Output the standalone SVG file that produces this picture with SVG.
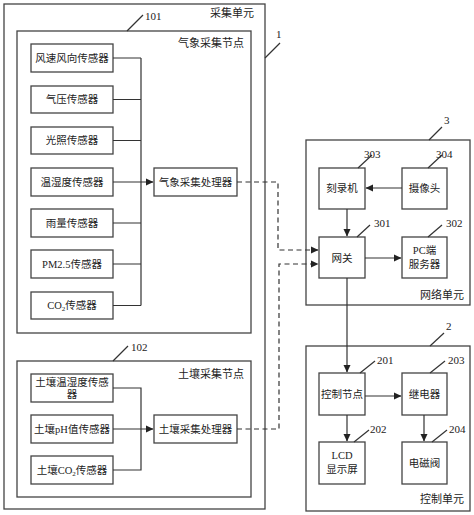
<svg xmlns="http://www.w3.org/2000/svg" width="474" height="515" viewBox="0 0 474 515">
<defs>
<marker id="ah" markerWidth="8" markerHeight="8" refX="7" refY="4" orient="auto" markerUnits="userSpaceOnUse">
<path d="M0,0.5 L7.5,4 L0,7.5 Z" fill="#222"/>
</marker>
</defs>
<style>
rect{fill:#fff;stroke:#444;stroke-width:1.3}
.ln{fill:none;stroke:#333;stroke-width:1.2}
.ds{fill:none;stroke:#333;stroke-width:1.2;stroke-dasharray:5,3.5}
text{font-family:"Liberation Serif","Noto Sans CJK SC",serif;font-size:10.5px;fill:#222}
.c{text-anchor:middle}
.e{text-anchor:end;font-size:11px}
.n{font-size:11px}
</style>
<rect width="474" height="515" style="fill:#fff;stroke:none"/>

<g id="unit1">
<rect x="4" y="4" width="261" height="505"/>
<text class="e" x="254" y="17">采集单元</text>
</g>
<g id="label1"><path class="ln" d="M265,58 L280,43"/><text class="n" x="276" y="38">1</text></g>

<g id="node101">
<rect x="17" y="31" width="234" height="302"/>
<text class="e" x="244" y="47">气象采集节点</text>
<path class="ln" d="M127,31 L143,15"/><text class="n" x="145" y="20">101</text>
</g>

<g id="s1"><rect x="31" y="44" width="82" height="28"/><text class="c" x="72" y="62">风速风向传感器</text></g>
<g id="s2"><rect x="31" y="86" width="82" height="27"/><text class="c" x="72" y="103">气压传感器</text></g>
<g id="s3"><rect x="31" y="127" width="82" height="27"/><text class="c" x="72" y="144">光照传感器</text></g>
<g id="s4"><rect x="31" y="168" width="82" height="28"/><text class="c" x="72" y="186">温湿度传感器</text></g>
<g id="s5"><rect x="31" y="209" width="82" height="28"/><text class="c" x="72" y="227">雨量传感器</text></g>
<g id="s6"><rect x="31" y="250" width="82" height="28"/><text class="c" x="72" y="268">PM2.5传感器</text></g>
<g id="s7"><rect x="31" y="292" width="82" height="27"/><text class="c" x="72" y="309">CO<tspan font-size="7" dy="2">2</tspan><tspan dy="-2">传感器</tspan></text></g>
<g id="p1"><rect x="154" y="168" width="83" height="28"/><text class="c" x="195.5" y="186">气象采集处理器</text></g>

<g id="node102">
<rect x="17" y="361" width="234" height="136"/>
<text class="e" x="244" y="378">土壤采集节点</text>
<path class="ln" d="M113,361 L128,346"/><text class="n" x="131" y="351">102</text>
</g>
<g id="ss1"><rect x="31" y="374" width="82" height="28"/><text class="c" x="72" y="386">土壤温湿度传感</text><text class="c" x="72" y="398">器</text></g>
<g id="ss2"><rect x="31" y="415" width="82" height="28"/><text class="c" x="72" y="433">土壤pH值传感器</text></g>
<g id="ss3"><rect x="31" y="456" width="82" height="28"/><text class="c" x="72" y="474">土壤CO<tspan font-size="7" dy="2">2</tspan><tspan dy="-2">传感器</tspan></text></g>
<g id="p2"><rect x="154" y="415" width="83" height="28"/><text class="c" x="195.5" y="433">土壤采集处理器</text></g>

<g id="unit3">
<rect x="306" y="140" width="164" height="165"/>
<text class="e" x="464" y="299">网络单元</text>
<path class="ln" d="M429,140 L442,127"/><text class="n" x="444" y="124">3</text>
</g>
<g id="n303"><rect x="319" y="168" width="46" height="41"/><text class="c" x="342" y="192" font-size="11">刻录机</text>
<path class="ln" d="M358,168 L372,155"/><text class="n" x="364" y="158">303</text></g>
<g id="n304"><rect x="402" y="168" width="45" height="41"/><text class="c" x="424.5" y="192" font-size="11">摄像头</text>
<path class="ln" d="M428,168 L442,155"/><text class="n" x="436" y="158">304</text></g>
<g id="n301"><rect x="319" y="237" width="46" height="41"/><text class="c" x="342" y="262" font-size="11">网关</text>
<path class="ln" d="M357,237 L370,225"/><text class="n" x="374" y="227">301</text></g>
<g id="n302"><rect x="402" y="237" width="45" height="41"/><text class="c" x="424.5" y="254">PC端</text><text class="c" x="424.5" y="268">服务器</text>
<path class="ln" d="M428,237 L442,225"/><text class="n" x="446" y="227">302</text></g>

<g id="unit2">
<rect x="306" y="346" width="164" height="165"/>
<text class="e" x="464" y="503">控制单元</text>
<path class="ln" d="M430,346 L444,333"/><text class="n" x="446" y="330">2</text>
</g>
<g id="n201"><rect x="319" y="373" width="46" height="42"/><text class="c" x="342" y="398" font-size="11">控制节点</text>
<path class="ln" d="M360,373 L375,361"/><text class="n" x="377" y="364">201</text></g>
<g id="n203"><rect x="402" y="373" width="45" height="42"/><text class="c" x="424.5" y="398" font-size="11">继电器</text>
<path class="ln" d="M430,373 L445,361"/><text class="n" x="448" y="364">203</text></g>
<g id="n202"><rect x="319" y="442" width="46" height="42"/><text class="c" x="342" y="459">LCD</text><text class="c" x="342" y="473">显示屏</text>
<path class="ln" d="M354,442 L369,430"/><text class="n" x="370" y="433">202</text></g>
<g id="n204"><rect x="402" y="442" width="45" height="42"/><text class="c" x="424.5" y="467" font-size="11">电磁阀</text>
<path class="ln" d="M432,442 L447,430"/><text class="n" x="449" y="433">204</text></g>

<g id="connectors">
<path class="ln" d="M113,58 H141 M113,99.5 H141 M113,140.5 H141 M113,223 H141 M113,264 H141 M113,305.5 H141 M141,58 V305.5"/>
<path class="ln" d="M113,182 H153" marker-end="url(#ah)"/>
<path class="ln" d="M113,388 H141 V470 H113"/>
<path class="ln" d="M113,429 H153" marker-end="url(#ah)"/>
<path class="ds" d="M237,182 H278 V250 H318" marker-end="url(#ah)"/>
<path class="ds" d="M237,429 H279 V264 H318" marker-end="url(#ah)"/>
<path class="ln" d="M402,188 H366" marker-end="url(#ah)"/>
<path class="ln" d="M347,209 V236" marker-end="url(#ah)"/>
<path class="ln" d="M365,258 H401" marker-end="url(#ah)"/>
<path class="ln" d="M347,278 V372" marker-end="url(#ah)"/>
<path class="ln" d="M365,396 H401" marker-end="url(#ah)"/>
<path class="ln" d="M347,415 V441" marker-end="url(#ah)"/>
<path class="ln" d="M424,415 V441" marker-end="url(#ah)"/>
</g>
</svg>
